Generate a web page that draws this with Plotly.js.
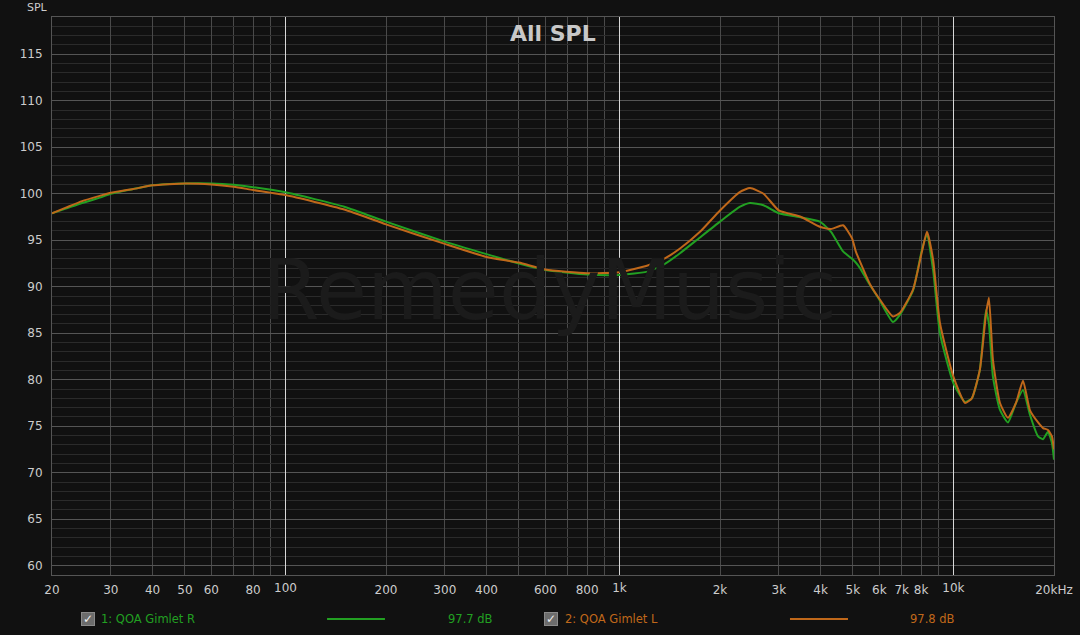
<!DOCTYPE html>
<html>
<head>
<meta charset="utf-8">
<script src="https://cdn.plot.ly/plotly-3.0.1.min.js"></script>
<style>
html,body{margin:0;padding:0;background:#111111;}
#chart{width:1080px;height:635px;}
</style>
</head>
<body>
<div id="chart"></div>
<script>
// Frequencies (Hz)
const freqs = [20, 22, 24.6, 28, 30, 35, 40, 50, 60, 70, 80, 100, 150, 200, 300, 400, 500, 600, 800, 1000,
  1220, 1368, 1518, 1742, 2000, 2297, 2460, 2700, 3000, 3500, 3980, 4300, 4670, 4970, 5100, 5250,
  5620, 6000, 6590, 6920, 7570, 8050, 8330, 8690, 9110, 10000, 10830, 11350, 12000, 12510, 12770, 13130,
  13780, 14560, 15390, 16150, 16950, 17920, 18540, 19190, 19720, 20000];

// 1: QOA Gimlet R (green)
const splR = [97.9, 98.4, 99.0, 99.6, 100.0, 100.5, 100.9, 101.1, 101.1, 100.95, 100.7, 100.15, 98.6, 97.0, 94.85, 93.5, 92.5, 91.8, 91.3, 91.25,
  91.65, 92.45, 93.6, 95.3, 97.0, 98.6, 99.0, 98.75, 97.9, 97.45, 97.0, 95.9, 93.8, 93.0, 92.6, 92.0,
  90.2, 88.6, 86.2, 87.0, 89.6, 94.0, 95.5, 91.8, 85.0, 79.6, 77.6, 78.0, 81.1, 87.5, 86.0, 80.3,
  76.75, 75.4, 77.5, 78.9, 76.2, 73.9, 73.6, 74.4, 73.2, 71.4];

// 2: QOA Gimlet L (orange)
const splL = [97.9, 98.5, 99.2, 99.8, 100.1, 100.5, 100.9, 101.1, 101.0, 100.75, 100.4, 99.85, 98.3, 96.7, 94.6, 93.2, 92.6, 91.85, 91.45, 91.55,
  92.3, 93.05, 94.1, 95.9, 98.2, 100.2, 100.6, 100.0, 98.2, 97.5, 96.45, 96.2, 96.6, 95.2, 93.8, 92.7,
  90.3, 88.7, 86.8, 87.2, 89.7, 93.8, 95.9, 92.9, 86.1, 80.3, 77.5, 78.0, 81.1, 87.0, 88.8, 82.1,
  77.5, 75.9, 77.5, 79.9, 76.7, 75.4, 74.8, 74.6, 73.9, 72.5];

// Axis ticks
const xTickVals = [20, 30, 40, 50, 60, 80, 200, 300, 400, 600, 800, 2000, 3000, 4000, 5000, 6000, 7000, 8000, 20000];
const xTickText = ['20', '30', '40', '50', '60', '80', '200', '300', '400', '600', '800', '2k', '3k', '4k', '5k', '6k', '7k', '8k', '20kHz'];
const decadeVals = [100, 1000, 10000];
const decadeText = ['100', '1k', '10k'];
const xMinorGrid = [70, 90, 500, 700, 900, 9000];
const yTickVals = [60, 65, 70, 75, 80, 85, 90, 95, 100, 105, 110, 115];

const names = ['1: QOA Gimlet R', '2: QOA Gimlet L'];
const levels = ['97.7 dB', '97.8 dB'];
const colors = ['#22a022', '#c0681a'];

const FONT = 'DejaVu Sans, Verdana, sans-serif';

const traces = [
  {x: freqs, y: splR, type: 'scatter', mode: 'lines', name: names[0],
   line: {color: colors[0], width: 2, shape: 'spline', smoothing: 0.5}, xaxis: 'x', yaxis: 'y'},
  {x: freqs, y: splL, type: 'scatter', mode: 'lines', name: names[1],
   line: {color: colors[1], width: 2, shape: 'spline', smoothing: 0.5}, xaxis: 'x', yaxis: 'y'},
  // invisible helper on decade axis so it is drawn
  {x: [freqs[0]], y: [splR[0]], type: 'scatter', mode: 'markers', marker: {opacity: 0}, hoverinfo: 'skip',
   showlegend: false, xaxis: 'x2', yaxis: 'y'}
];

const xr = [Math.log10(20), Math.log10(20000)];

const layout = {
  width: 1080, height: 635,
  paper_bgcolor: '#111111', plot_bgcolor: '#111111',
  margin: {l: 52, r: 26, t: 17, b: 60},
  showlegend: false,
  font: {family: FONT, color: '#cccccc', size: 12},
  xaxis: {
    type: 'log', range: xr, tickmode: 'array', tickvals: xTickVals, ticktext: xTickText,
    showgrid: true, gridcolor: '#4a4a4a', gridwidth: 1, zeroline: false,
    ticks: '', ticklabelstandoff: 4, tickfont: {size: 12, color: '#cccccc'},
    showline: true, linecolor: '#555555', linewidth: 1, mirror: true,
    minor: {tickmode: 'array', tickvals: xMinorGrid, showgrid: true, gridcolor: '#4a4a4a', gridwidth: 1, ticks: ''}
  },
  xaxis2: {
    type: 'log', range: xr, overlaying: 'x', anchor: 'y', side: 'bottom',
    tickmode: 'array', tickvals: decadeVals, ticktext: decadeText,
    showgrid: true, gridcolor: '#d8d8d8', gridwidth: 1, zeroline: false,
    ticks: '', ticklabelstandoff: 4, tickfont: {size: 12, color: '#cccccc'}, showline: false
  },
  yaxis: {
    range: [59, 119], tickmode: 'array', tickvals: yTickVals,
    showgrid: true, gridcolor: '#555555', gridwidth: 1, zeroline: false,
    ticks: '', ticklabelstandoff: 6, tickfont: {size: 12, color: '#cccccc'},
    showline: true, linecolor: '#555555', linewidth: 1, mirror: true,
    minor: {dtick: 1, showgrid: true, gridcolor: '#2b2b2b', gridwidth: 1, ticks: ''}
  },
  annotations: [
    {text: '<b>All SPL</b>', xref: 'paper', yref: 'paper', x: 0.5, y: 1, yshift: -16, xanchor: 'center', yanchor: 'middle',
     showarrow: false, font: {family: FONT, size: 22, color: '#c8c8c8'}},
    {text: 'SPL', xref: 'paper', yref: 'paper', x: 0, xshift: -15, y: 1, yshift: 10, xanchor: 'center', yanchor: 'middle',
     showarrow: false, font: {family: FONT, size: 11, color: '#cccccc'}},
    {text: 'RemedyMusic', xref: 'paper', yref: 'paper', x: 0.497, y: 0.51, xanchor: 'center', yanchor: 'middle',
     showarrow: false, font: {family: FONT, size: 83, color: '#1b1b1b'}},
    // legend row
    {text: '✓', xref: 'paper', yref: 'paper', x: 0.0359, y: -0.0789, xanchor: 'center', yanchor: 'middle', showarrow: false,
     font: {family: FONT, size: 12, color: '#f0f0f0'}, bgcolor: '#6c6c6c', bordercolor: '#8a8a8a', borderwidth: 1, borderpad: 0, width: 12, height: 12},
    {text: names[0], xref: 'paper', yref: 'paper', x: 0.0469, y: -0.0789, xanchor: 'left', yanchor: 'middle', showarrow: false,
     font: {family: FONT, size: 11.5, color: colors[0]}},
    {text: levels[0], xref: 'paper', yref: 'paper', x: 0.4172, y: -0.0789, xanchor: 'center', yanchor: 'middle', showarrow: false,
     font: {family: FONT, size: 11.5, color: colors[0]}},
    {text: '✓', xref: 'paper', yref: 'paper', x: 0.4980, y: -0.0789, xanchor: 'center', yanchor: 'middle', showarrow: false,
     font: {family: FONT, size: 12, color: '#f0f0f0'}, bgcolor: '#6c6c6c', bordercolor: '#8a8a8a', borderwidth: 1, borderpad: 0, width: 12, height: 12},
    {text: names[1], xref: 'paper', yref: 'paper', x: 0.5100, y: -0.0789, xanchor: 'left', yanchor: 'middle', showarrow: false,
     font: {family: FONT, size: 11.5, color: colors[1]}},
    {text: levels[1], xref: 'paper', yref: 'paper', x: 0.8792, y: -0.0789, xanchor: 'center', yanchor: 'middle', showarrow: false,
     font: {family: FONT, size: 11.5, color: colors[1]}}
  ],
  shapes: [
    {type: 'line', xref: 'paper', yref: 'paper', x0: 0.2745, x1: 0.3323, y0: -0.0789, y1: -0.0789, line: {color: colors[0], width: 2}},
    {type: 'line', xref: 'paper', yref: 'paper', x0: 0.7365, x1: 0.7944, y0: -0.0789, y1: -0.0789, line: {color: colors[1], width: 2}}
  ]
};

Plotly.newPlot('chart', traces, layout, {staticPlot: true, displayModeBar: false});
</script>
</body>
</html>
